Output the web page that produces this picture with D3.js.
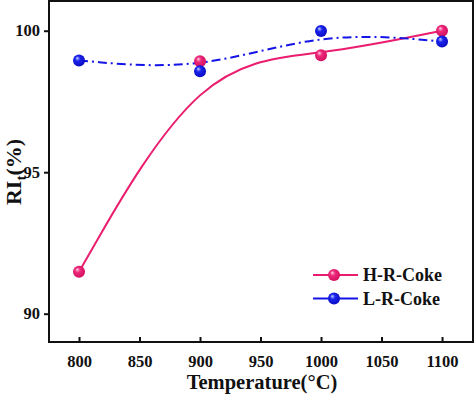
<!DOCTYPE html>
<html>
<head>
<meta charset="utf-8">
<script src="https://cdn.jsdelivr.net/npm/d3@7"></script>
<style>
    body { margin: 0; background: #fff; }
    text { font-family: "Liberation Serif", "Times New Roman", serif; font-weight: bold; fill: #111; }
</style>
</head>
<body>
<svg id="chart" width="474" height="395"></svg>
<script>
// data
const temps = [800, 900, 1000, 1100];
const hrCoke = [91.48, 98.92, 99.13, 100.0];
const lrCoke = [98.95, 98.57, 99.99, 99.62];
const xTicks = [800, 850, 900, 950, 1000, 1050, 1100];
const yTicks = [90, 95, 100];

const margin = { left: 49, top: 1, right: 1, bottom: 53 };
const width = 474, height = 395;

const svg = d3.select('#chart');

const x = d3.scaleLinear().domain([775.2, 1125.6]).range([margin.left, width - margin.right]);
const y = d3.scaleLinear().domain([89, 101.05]).range([height - margin.bottom, margin.top]);

// gradients for the shiny markers
const defs = svg.append('defs');
function sphere(id, light, base, dark) {
    const g = defs.append('radialGradient').attr('id', id)
        .attr('cx', '45%').attr('cy', '45%').attr('r', '60%')
        .attr('fx', '35%').attr('fy', '30%');
    g.append('stop').attr('offset', '0%').attr('stop-color', light);
    g.append('stop').attr('offset', '35%').attr('stop-color', base);
    g.append('stop').attr('offset', '100%').attr('stop-color', dark);
}
sphere('gPink', '#ffd0e4', '#ee2a7b', '#d10c5c');
sphere('gBlue', '#c8d0ff', '#1a24ec', '#0a0ac0');

const series = [
    { name: 'H-R-Coke', values: hrCoke, color: '#ea1d6e', fill: 'url(#gPink)', dash: null },
    { name: 'L-R-Coke', values: lrCoke, color: '#1414e6', fill: 'url(#gBlue)', dash: '9,4,2,4' }
];

const line = d3.line()
    .x((d, i) => x(temps[i]))
    .y(d => y(d))
    .curve(d3.curveBasis);

series.forEach(s => {
    svg.append('path')
        .attr('d', line(s.values))
        .attr('fill', 'none')
        .attr('stroke', s.color)
        .attr('stroke-width', 2)
        .attr('stroke-dasharray', s.dash);
});

series.forEach(s => {
    svg.selectAll(null)
        .data(s.values)
        .enter().append('circle')
        .attr('cx', (d, i) => x(temps[i]))
        .attr('cy', d => y(d))
        .attr('r', 6)
        .attr('fill', s.fill);
});

// axes
const xAxis = svg.append('g')
    .attr('transform', `translate(0,${height - margin.bottom})`)
    .call(d3.axisBottom(x).tickValues(xTicks).tickSize(-5).tickPadding(13).tickFormat(d3.format('d')));
const yAxis = svg.append('g')
    .attr('transform', `translate(${margin.left},0)`)
    .call(d3.axisLeft(y).tickValues(yTicks).tickSize(5).tickPadding(4));

[xAxis, yAxis].forEach(a => {
    a.select('.domain').remove();
    a.selectAll('.tick line').attr('stroke', '#111').attr('stroke-width', 2);
    a.selectAll('.tick text').style('font-size', '16.5px').attr('fill', '#111');
});

// frame
svg.append('rect')
    .attr('x', margin.left).attr('y', margin.top)
    .attr('width', width - margin.right - margin.left)
    .attr('height', height - margin.bottom - margin.top)
    .attr('fill', 'none').attr('stroke', '#111').attr('stroke-width', 2);

// axis titles
svg.append('text')
    .attr('x', 262).attr('y', 389)
    .attr('text-anchor', 'middle')
    .style('font-size', '20.5px')
    .text('Temperature(°C)');

const yt = svg.append('text')
    .attr('transform', 'translate(21,172) rotate(-90)')
    .attr('text-anchor', 'middle')
    .style('font-size', '22px');
yt.append('tspan').text('RI');
yt.append('tspan').attr('dy', 5).style('font-size', '15px').text('t');
yt.append('tspan').attr('dy', -5).text('(%)');

// legend
const legend = svg.append('g').attr('transform', 'translate(313,275)');
series.forEach((s, i) => {
    const g = legend.append('g').attr('transform', `translate(0,${i * 23.5})`);
    g.append('line').attr('x1', 0).attr('x2', 45)
        .attr('stroke', s.color).attr('stroke-width', 2);
    g.append('circle').attr('cx', 21).attr('r', 6).attr('fill', s.fill);
    g.append('text').attr('x', 50).attr('dy', '0.35em')
        .style('font-size', '18px').text(s.name);
});
</script>
</body>
</html>
